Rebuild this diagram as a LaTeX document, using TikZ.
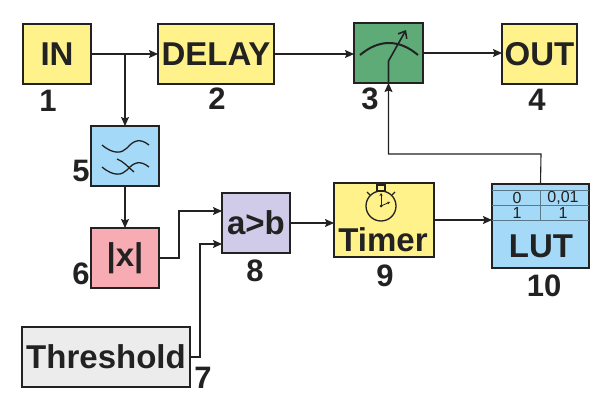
\documentclass[tikz,border=0pt]{standalone}
\usepackage{fontspec}
\setmainfont{Liberation Sans}
\usepackage{tikz}
\usetikzlibrary{arrows.meta}

\definecolor{boxyellow}{HTML}{FFF28A}
\definecolor{boxgreen}{HTML}{5FAB78}
\definecolor{boxblue}{HTML}{A4DAF8}
\definecolor{boxpink}{HTML}{F7ABB2}
\definecolor{boxlilac}{HTML}{CFCBE8}
\definecolor{boxgray}{HTML}{ECECEC}
\definecolor{inkdark}{HTML}{222222}

\begin{document}
\begin{tikzpicture}[
    x=1pt,
    y=-1pt,
    block/.style={draw=inkdark, line width=1.6pt, inner sep=0pt, outer sep=0pt, font=\fontsize{33}{33}\selectfont\bfseries, text=inkdark},
    number/.style={inner sep=0pt, font=\fontsize{31}{31}\selectfont\bfseries, text=inkdark},
    wire/.style={draw=inkdark, line width=1.1pt},
    flow/.style={wire, -{Stealth[length=9pt, width=8pt, inset=1.5pt]}},
    glyph/.style={draw=inkdark, line width=1.3pt},
    cell/.style={inner sep=0pt, font=\fontsize{16}{16}\selectfont, text=inkdark},
    grid line/.style={draw=black!45!boxblue, line width=0.8pt}
]
\useasboundingbox (0,0) rectangle (591,412);

% Top row
\node[block, fill=boxyellow, minimum width=68pt, minimum height=60pt] (in) at (57,54) {IN};
\node[block, fill=boxyellow, minimum width=116pt, minimum height=60pt] (delay) at (216,54) {DELAY};
\node[block, fill=boxgreen, minimum width=69pt, minimum height=60pt] (meter) at (388.5,53) {};
\node[block, fill=boxyellow, minimum width=75pt, minimum height=60pt] (out) at (539.5,54) {OUT};

% Left column
\node[block, fill=boxblue, minimum width=68pt, minimum height=60pt] (filter) at (125,156) {};
\node[block, fill=boxpink, minimum width=68pt, minimum height=60pt] (abs) at (125,258) {|x|};
\node[block, fill=boxgray, minimum width=168pt, minimum height=60pt] (threshold) at (106,357) {Threshold};

% Lower row
\node[block, fill=boxlilac, minimum width=68pt, minimum height=60pt] (compare) at (256,223) {a>b};
\node[block, fill=boxyellow, minimum width=100pt, minimum height=74pt] (timer) at (384,220) {};
\node[block, fill=boxblue, minimum width=97pt, minimum height=84pt] (lut) at (540.5,226) {};
\node[block, anchor=base, draw=none] (timertext) at (383,251) {Timer};
\node[block, anchor=base, draw=none] (luttext) at (541,257) {LUT};

% Numbers
\node[number] (n1) at (48,101) {1};
\node[number] (n2) at (217,99) {2};
\node[number] (n3) at (370,99) {3};
\node[number] (n4) at (537,100) {4};
\node[number] (n5) at (81,171) {5};
\node[number] (n6) at (81,274) {6};
\node[number] (n7) at (203,378) {7};
\node[number] (n8) at (255,271) {8};
\node[number] (n9) at (385,276) {9};
\node[number] (n10) at (544,286) {10};

% Connectors
\coordinate (split) at (in.east -| filter.north);
\coordinate (absin) at (222,211);
\coordinate (thrin) at (222,244);
\coordinate (lutin) at (492,220);
\draw[flow] (in.east) -- (delay.west);
\draw[flow] (split) -- (filter.north);
\draw[flow] (delay.east) -- (delay.east -| meter.west);
\draw[flow] (meter.east) -- (meter.east -| out.west);
\draw[flow] (filter.south) -- (abs.north);
\draw[flow] (abs.east) -- (179,258) -- (179,211) -- (absin);
\draw[flow] (threshold.east) -- (200,357) -- (200,244) -- (thrin);
\draw[flow] (compare.east) -- (compare.east -| timer.west);
\draw[flow] (timer.east) -- (lutin);
\draw[flow] (lut.north) -- (541,154) -- (388.5,154) -- (meter.south);

% Meter glyph
\draw[glyph, line width=2pt] (360,55) .. controls (379,39) and (399,39) .. (418,55);
\draw[glyph, line width=1.6pt, -{Straight Barb[length=6pt, width=10pt]}] (meter.south) -- (388.5,61) -- (406,30);

% Filter glyph
\draw[glyph] (102,145) .. controls (114,155) and (122,153) .. (127,148) .. controls (134,140) and (140,138) .. (149,145);
\draw[glyph] (102,167) .. controls (114,177) and (122,175) .. (127,170) .. controls (134,162) and (140,160) .. (149,167);
\draw[glyph] (117,159) .. controls (123,161) and (128,167) .. (134,172);

% Stopwatch
\draw[glyph] (381,206) circle (15);
\draw[glyph] (377,185) rectangle (385,191);
\draw[glyph] (367,192) -- (370,195);
\draw[glyph] (395,192) -- (392,195);
\draw[glyph, line width=0.8pt, -{Stealth[length=3pt, width=3pt]}] (381,206) -- (381,193);
\draw[glyph, line width=0.8pt, -{Stealth[length=3pt, width=3pt]}] (381,206) -- (390,202);
\fill[inkdark] (381,206) circle (1.5);

% Table
\draw[grid line] (492,190) -- (589,190);
\draw[grid line] (492,205) -- (589,205);
\draw[grid line] (492,220) -- (589,220);
\draw[grid line] (540,190) -- (540,220);
\node[cell] (c11) at (517,198) {0};
\node[cell] (c12) at (563,198) {0,01};
\node[cell] (c21) at (517,213) {1};
\node[cell] (c22) at (563,213) {1};
\end{tikzpicture}
\end{document}
